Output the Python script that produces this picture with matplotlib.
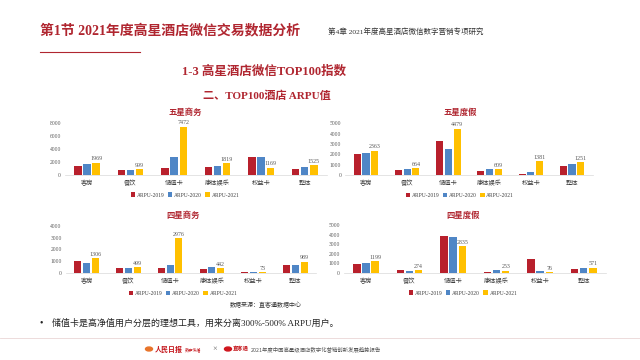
import matplotlib
matplotlib.use("Agg")
import matplotlib.pyplot as plt
import numpy as np
from matplotlib.patches import Circle

plt.rcParams['font.family'] = ['Liberation Serif', 'Noto Sans CJK SC', 'DejaVu Sans']
CJK = ['Noto Sans CJK SC', 'DejaVu Sans']

categories = ["客房", "餐饮", "储值卡", "康体娱乐", "权益卡", "整体"]
series_names = ["ARPU-2019", "ARPU-2020", "ARPU-2021"]

five_biz_2019 = [1440, 770, 1080, 1330, 2870, 1030]
five_biz_2020 = [1690, 770, 2870, 1440, 2870, 1280]
five_biz_2021 = [1969, 999, 7472, 1819, 1169, 1525]

five_res_2019 = [2020, 545, 3270, 385, 160, 900]
five_res_2020 = [2115, 610, 2560, 577, 350, 1090]
five_res_2021 = [2363, 664, 4479, 609, 1381, 1251]

four_biz_2019 = [1060, 420, 420, 365, 110, 730]
four_biz_2020 = [895, 420, 670, 500, 85, 730]
four_biz_2021 = [1306, 499, 2976, 442, 73, 989]

four_res_2019 = [940, 310, 3850, 140, 1420, 380]
four_res_2020 = [1010, 245, 3750, 350, 175, 520]
four_res_2021 = [1199, 274, 2835, 253, 76, 571]

charts = [
    ("五星商务", [five_biz_2019, five_biz_2020, five_biz_2021], 8000, [0, 2000, 4000, 6000, 8000]),
    ("五星度假", [five_res_2019, five_res_2020, five_res_2021], 5000, [0, 1000, 2000, 3000, 4000, 5000]),
    ("四星商务", [four_biz_2019, four_biz_2020, four_biz_2021], 4000, [0, 1000, 2000, 3000, 4000]),
    ("四星度假", [four_res_2019, four_res_2020, four_res_2021], 5000, [0, 1000, 2000, 3000, 4000, 5000]),
]

colors = ["#b8202c", "#4f86c6", "#ffc000"]
RED = "#b02630"

W, H = 640, 360
fig = plt.figure(figsize=(6.4, 3.6), dpi=100)
fig.patch.set_facecolor("white")

def fx(x):
    return x / W

def fy(y):
    return 1 - y / H

# axes boxes in pixel coords: (left, right, top, bottom), title/legend centre x, title y, legend y
boxes = [
    (65.2, 326.5, 123.3, 175.3, 185, 112, 195),
    (345.4, 592.6, 123.3, 175.3, 460, 112, 195.5),
    (65.8, 316.2, 225.7, 273.3, 183, 215, 293.5),
    (344.2, 605.5, 225.0, 273.0, 463, 215, 293),
]

x = np.arange(len(categories))
bw = 0.17
off = 0.21
for (title, data, ymax, yt), (l, r, t, b, cx, ty, ly) in zip(charts, boxes):
    ax = fig.add_axes([fx(l), fy(b), fx(r - l), (b - t) / H])
    handles = []
    for i, (vals, c) in enumerate(zip(data, colors)):
        h = ax.bar(x + (i - 1) * off, vals, width=bw, color=c, label=series_names[i])
        handles.append(h)
    for xi, v in zip(x, data[2]):
        ax.text(xi + off, v + ymax * 0.025, f"{v}", ha="center", va="bottom",
                fontsize=4.3, color="#595959", clip_on=False)
    ax.set_xlim(-0.5, len(categories) - 0.5)
    ax.set_ylim(0, ymax)
    ax.set_yticks(yt)
    ax.set_yticklabels([str(v) for v in yt], fontsize=4.0, color="#595959")
    ax.set_xticks(x)
    ax.set_xticklabels(categories, fontsize=4.5, color="#404040", family=CJK)
    ax.tick_params(axis="both", length=0, pad=3)
    for s in ["top", "right", "left"]:
        ax.spines[s].set_visible(False)
    ax.spines["bottom"].set_color("#d9d9d9")
    ax.spines["bottom"].set_linewidth(0.5)
    ax.set_facecolor("none")
    fig.text(fx(cx), fy(ty), title, ha="center", va="center",
             fontsize=6, fontweight="bold", color=RED, family=CJK)
    fig.legend(handles=handles, loc="center", bbox_to_anchor=(fx(cx), fy(ly)),
               ncol=3, frameon=False, fontsize=4.0, handlelength=0.8, handleheight=0.8,
               handletextpad=0.3, columnspacing=0.6, labelcolor="#404040")

# Header
fig.text(fx(40), fy(30), "第1节 2021年度高星酒店微信交易数据分析", ha="left", va="center",
         fontsize=10, fontweight="bold", color=RED)
fig.text(fx(328), fy(31), "第4章 2021年度高星酒店微信数字营销专项研究", ha="left", va="center",
         fontsize=5.4, color="#333333")
fig.add_artist(plt.Line2D([fx(40), fx(140)], [fy(52), fy(52)], color=RED, lw=0.8))

fig.text(fx(264), fy(72), "1-3 高星酒店微信TOP100指数", ha="center", va="center",
         fontsize=9, fontweight="bold", color=RED)
fig.text(fx(267), fy(95), "二、TOP100酒店 ARPU值", ha="center", va="center",
         fontsize=8, fontweight="bold", color=RED)

# Source and bullet
fig.text(fx(266), fy(305), "数据来源：直客通数据中心", ha="center", va="center",
         fontsize=4.3, color="#333333", family=CJK)
fig.text(fx(40), fy(323), "•", ha="left", va="center", fontsize=7, color="#222222")
fig.text(fx(52), fy(323), "储值卡是高净值用户分层的理想工具，用来分离300%-500% ARPU用户。",
         ha="left", va="center", fontsize=6.45, color="#222222")

# Divider
fig.add_artist(plt.Line2D([0, 1], [fy(338), fy(338)], color="#ead6d6", lw=0.6))

# Footer logos (text approximations)
fig.add_artist(Circle((fx(149), fy(349)), 3.5 / W, transform=fig.transFigure,
                      color="#e8742a"))
fig.text(fx(155), fy(349), "人民日报", ha="left", va="center", fontsize=5.0,
         style="italic", color="#c4161c", fontweight="bold", family=CJK)
fig.text(fx(185), fy(349.5), "数字传播", ha="left", va="center", fontsize=3.0,
         color="#c4161c", family=CJK)
fig.text(fx(215), fy(349), "×", ha="center", va="center", fontsize=6, color="#666666")
fig.add_artist(Circle((fx(228), fy(349)), 3.5 / W, transform=fig.transFigure,
                      color="#d0161e"))
fig.text(fx(233), fy(349), "直客通", ha="left", va="center", fontsize=3.8,
         fontweight="bold", color="#c4161c", family=CJK)
fig.text(fx(251), fy(349), "2021年度中国高星级酒店数字化营销创新发展趋势报告", ha="left",
         va="center", fontsize=3.9, color="#555555", family=CJK)

fig.savefig("out.png", dpi=100, facecolor="white")
